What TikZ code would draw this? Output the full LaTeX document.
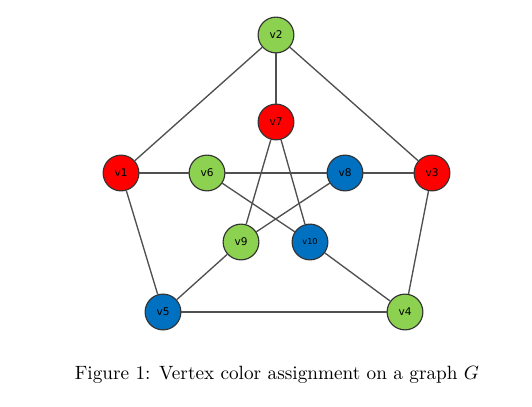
\documentclass[tikz,border=0pt]{standalone}
\usepackage{fontspec}
\newfontfamily\nodefont{DejaVu Sans}
\definecolor{vred}{HTML}{FF0000}
\definecolor{vgreen}{HTML}{8CD14F}
\definecolor{vblue}{HTML}{0070C0}
\definecolor{edgegray}{HTML}{505050}
\tikzset{
  vert/.style={circle, draw=black!80, line width=0.6pt, minimum size=18.6pt, inner sep=0pt, font=\nodefont\fontsize{5.5}{6}\selectfont},
  vr/.style={vert, fill=vred},
  vg/.style={vert, fill=vgreen},
  vb/.style={vert, fill=vblue},
  edge/.style={draw=edgegray, line width=0.7pt}
}
\begin{document}
\begin{tikzpicture}[x=0.52pt, y=-0.52pt]
\useasboundingbox (0,0) rectangle (532,407);
\node[vg] (v2) at (276,35) {v2};
\node[vr] (v7) at (276,122) {v7};
\node[vr] (v1) at (121,173) {v1};
\node[vg] (v6) at (207,173) {v6};
\node[vb] (v8) at (345,173) {v8};
\node[vr] (v3) at (432,173) {v3};
\node[vg] (v9) at (241,242) {v9};
\node[vb] (v10) at (310,242) {\fontsize{4.2}{5}\selectfont v10};
\node[vb] (v5) at (163,312) {v5};
\node[vg] (v4) at (405,312) {v4};
\path[edge] (v2) -- (v1);
\path[edge] (v2) -- (v3);
\path[edge] (v2) -- (v7);
\path[edge] (v1) -- (v6);
\path[edge] (v6) -- (v8);
\path[edge] (v8) -- (v3);
\path[edge] (v1) -- (v5);
\path[edge] (v3) -- (v4);
\path[edge] (v5) -- (v4);
\path[edge] (v7) -- (v9);
\path[edge] (v7) -- (v10);
\path[edge] (v6) -- (v10);
\path[edge] (v8) -- (v9);
\path[edge] (v9) -- (v5);
\path[edge] (v10) -- (v4);
\node[font=\fontsize{10}{12}\selectfont] (cap) at (277,375) {Figure 1: Vertex color assignment on a graph $G$};
\end{tikzpicture}
\end{document}
